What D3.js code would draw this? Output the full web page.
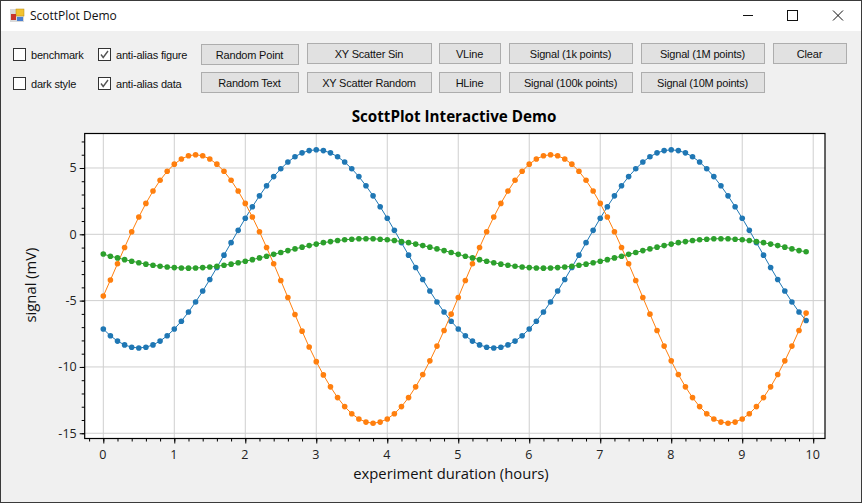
<!DOCTYPE html>
<html>
<head>
<meta charset="utf-8">
<title>ScottPlot Demo</title>
<script src="https://cdn.jsdelivr.net/npm/d3@7"></script>
<style>
  html, body { margin: 0; padding: 0; background: #f0f0f0; overflow: hidden; }
  svg { display: block; }
  .ui { font-family: "Liberation Sans", sans-serif; font-size: 11px; letter-spacing: -0.2px; fill: #111; }
  .seg { font-family: "Open Sans", "Noto Sans", sans-serif; fill: #111; }
</style>
</head>
<body>
<svg id="app" width="862" height="503"></svg>
<script>
// values, one point every 0.1 hours
var blueSeries = [
  -7.14, -7.65, -8.05, -8.34, -8.51, -8.57, -8.51, -8.34, -8.05, -7.65,
  -7.14, -6.55, -5.86, -5.10, -4.28, -3.41, -2.50, -1.57, -0.63, 0.30,
  1.21, 2.08, 2.90, 3.66, 4.35, 4.94, 5.45, 5.85, 6.14, 6.31,
  6.37, 6.31, 6.14, 5.85, 5.45, 4.94, 4.35, 3.66, 2.90, 2.08,
  1.21, 0.30, -0.63, -1.57, -2.50, -3.41, -4.28, -5.10, -5.86, -6.55,
  -7.14, -7.65, -8.05, -8.34, -8.51, -8.57, -8.51, -8.34, -8.05, -7.65,
  -7.14, -6.55, -5.86, -5.10, -4.28, -3.41, -2.50, -1.57, -0.63, 0.30,
  1.21, 2.08, 2.90, 3.66, 4.35, 4.94, 5.45, 5.85, 6.14, 6.31,
  6.37, 6.31, 6.14, 5.85, 5.45, 4.94, 4.35, 3.66, 2.90, 2.08,
  1.21, 0.30, -0.63, -1.57, -2.50, -3.41, -4.28, -5.10, -5.86, -6.50
]
var orangeSeries = [
  -4.66, -3.45, -2.22, -0.99, 0.19, 1.30, 2.33, 3.26, 4.07, 4.75,
  5.29, 5.68, 5.92, 6.00, 5.92, 5.68, 5.29, 4.75, 4.07, 3.26,
  2.33, 1.30, 0.19, -0.99, -2.22, -3.48, -4.76, -6.05, -7.30, -8.50,
  -9.60, -10.60, -11.50, -12.31, -12.99, -13.53, -13.92, -14.16, -14.24, -14.16,
  -13.92, -13.53, -12.99, -12.31, -11.50, -10.57, -9.54, -8.43, -7.25, -6.02,
  -4.76, -3.48, -2.22, -0.99, 0.19, 1.30, 2.33, 3.26, 4.07, 4.75,
  5.29, 5.68, 5.92, 6.00, 5.92, 5.68, 5.29, 4.75, 4.07, 3.26,
  2.33, 1.30, 0.19, -0.99, -2.22, -3.48, -4.76, -6.02, -7.25, -8.43,
  -9.54, -10.57, -11.50, -12.31, -12.99, -13.53, -13.92, -14.16, -14.24, -14.16,
  -13.92, -13.53, -12.99, -12.31, -11.50, -10.57, -9.54, -8.43, -7.25, -5.94
]
var greenSeries = [
  -1.49, -1.65, -1.78, -1.91, -2.03, -2.14, -2.25, -2.33, -2.41, -2.47,
  -2.51, -2.54, -2.55, -2.54, -2.51, -2.47, -2.41, -2.33, -2.25, -2.14,
  -2.03, -1.91, -1.78, -1.65, -1.51, -1.37, -1.23, -1.10, -0.97, -0.85,
  -0.74, -0.63, -0.55, -0.47, -0.41, -0.37, -0.34, -0.33, -0.34, -0.37,
  -0.41, -0.47, -0.55, -0.63, -0.74, -0.85, -0.97, -1.10, -1.23, -1.37,
  -1.51, -1.65, -1.78, -1.91, -2.03, -2.14, -2.25, -2.33, -2.41, -2.47,
  -2.51, -2.54, -2.55, -2.54, -2.51, -2.47, -2.41, -2.33, -2.25, -2.14,
  -2.03, -1.91, -1.78, -1.65, -1.51, -1.37, -1.23, -1.10, -0.97, -0.85,
  -0.74, -0.63, -0.55, -0.47, -0.41, -0.37, -0.34, -0.33, -0.34, -0.37,
  -0.41, -0.47, -0.55, -0.63, -0.74, -0.85, -0.97, -1.10, -1.23, -1.32
]
var seriesColors = ["#1f77b4", "#ff7f0e", "#2ca02c"]
var xMajor = [0, 1, 2, 3, 4, 5, 6, 7, 8, 9, 10]
var yMajor = [-15, -10, -5, 0, 5]
var xMinor = d3.range(-1, 51).map(d => d / 5)
var yMinor = d3.range(-15, 8)

var topButtons = ["Random Point", "XY Scatter Sin", "VLine", "Signal (1k points)", "Signal (1M points)", "Clear"]
var bottomButtons = ["Random Text", "XY Scatter Random", "HLine", "Signal (100k points)", "Signal (10M points)"]
var checkLabels = ["benchmark", "anti-alias figure", "dark style", "anti-alias data"]
var checkStates = [false, true, false, true]

var svg = d3.select("#app")

// ---------- window chrome ----------
svg.append("rect").attr("width", 862).attr("height", 503).attr("fill", "#f0f0f0")
svg.append("rect").attr("width", 862).attr("height", 31).attr("fill", "#ffffff")
svg.append("rect").attr("x", 0.5).attr("y", 0.5).attr("width", 861).attr("height", 502)
   .attr("fill", "none").attr("stroke", "#3a3a3a")

var icon = svg.append("g")
icon.append("rect").attr("x", 10).attr("y", 9).attr("width", 14).attr("height", 13).attr("fill", "#d9d9d9")
icon.append("rect").attr("x", 16).attr("y", 9).attr("width", 8).attr("height", 7).attr("fill", "#f2c230").attr("stroke", "#b98a10").attr("stroke-width", 0.5)
icon.append("rect").attr("x", 11).attr("y", 14).attr("width", 5).attr("height", 6).attr("fill", "#c8342c")
icon.append("rect").attr("x", 17).attr("y", 17).attr("width", 6).attr("height", 4).attr("fill", "#4a7fd0")

svg.append("text").attr("class", "seg").attr("x", 30).attr("y", 20)
   .style("font-size", "12px").text("ScottPlot Demo")

svg.append("line").attr("x1", 743).attr("x2", 753).attr("y1", 15.5).attr("y2", 15.5).attr("stroke", "#111")
svg.append("rect").attr("x", 787.5).attr("y", 10.5).attr("width", 10).attr("height", 10)
   .attr("fill", "none").attr("stroke", "#111")
svg.append("path").attr("d", "M833,10.5L843,20.5M843,10.5L833,20.5").attr("stroke", "#111").attr("fill", "none")

// ---------- checkboxes ----------
var checkX = [13, 98]
var checkY = [48, 77]
checkLabels.forEach((label, i) => {
    var cx = checkX[i % 2]
    var cy = checkY[Math.floor(i / 2)]
    svg.append("rect").attr("x", cx + 0.5).attr("y", cy + 0.5).attr("width", 12).attr("height", 12)
       .attr("fill", "#ffffff").attr("stroke", "#333333")
    if (checkStates[i]) {
        svg.append("path").attr("d", `M${cx + 3},${cy + 6.5}L${cx + 5.2},${cy + 9.5}L${cx + 10},${cy + 3}`)
           .attr("fill", "none").attr("stroke", "#555555").attr("stroke-width", 1.4)
    }
    svg.append("text").attr("class", "ui").attr("x", cx + 18).attr("y", cy + 10.5).text(label)
})

// ---------- buttons ----------
var buttonLeft = [201, 307, 439, 509, 641, 773]
var buttonRight = [298, 431, 500, 632, 764, 846]

function drawButton(label, i, top) {
    var b = svg.append("g")
    b.append("rect").attr("x", buttonLeft[i] + 0.5).attr("y", top + 0.5)
     .attr("width", buttonRight[i] - buttonLeft[i]).attr("height", 20)
     .attr("fill", "#e1e1e1").attr("stroke", "#adadad")
    b.append("text").attr("class", "ui").attr("text-anchor", "middle")
     .attr("x", (buttonLeft[i] + buttonRight[i]) / 2).attr("y", top + 15).text(label)
}
topButtons.forEach((label, i) => drawButton(label, i, i == 0 ? 44 : 43))
bottomButtons.forEach((label, i) => drawButton(label, i, 72))

// ---------- chart ----------
var dimensions = { left: 84.7, right: 825, top: 133.5, bottom: 438.5 }

var xScale = d3.scaleLinear().domain([-0.262, 10.166]).range([dimensions.left, dimensions.right])
var yScale = d3.scaleLinear().domain([-15.395, 7.6]).range([dimensions.bottom, dimensions.top])

svg.append("rect").attr("x", dimensions.left).attr("y", dimensions.top)
   .attr("width", dimensions.right - dimensions.left).attr("height", dimensions.bottom - dimensions.top)
   .attr("fill", "#ffffff")

svg.append("g").selectAll("line").data(xMajor).enter().append("line")
   .attr("x1", d => xScale(d)).attr("x2", d => xScale(d))
   .attr("y1", dimensions.top).attr("y2", dimensions.bottom)
   .attr("stroke", "#cfcfcf").attr("stroke-width", 1)
svg.append("g").selectAll("line").data(yMajor).enter().append("line")
   .attr("y1", d => yScale(d)).attr("y2", d => yScale(d))
   .attr("x1", dimensions.left).attr("x2", dimensions.right)
   .attr("stroke", "#cfcfcf").attr("stroke-width", 1)

var lineGen = d3.line().x((d, i) => xScale(i / 10)).y(d => yScale(d))

;[blueSeries, orangeSeries, greenSeries].forEach((series, s) => {
    var g = svg.append("g")
    g.append("path").attr("d", lineGen(series))
     .attr("fill", "none").attr("stroke", seriesColors[s]).attr("stroke-width", 1)
    g.selectAll("circle").data(series).enter().append("circle")
     .attr("cx", (d, i) => xScale(i / 10))
     .attr("cy", d => yScale(d))
     .attr("r", 2.8)
     .attr("fill", seriesColors[s])
})

// minor ticks first, labelled majors on top
var xAxisG = svg.append("g").attr("transform", `translate(0,${dimensions.bottom})`)
xAxisG.call(d3.axisBottom(xScale).tickValues(xMinor).tickSize(3).tickFormat(""))
xAxisG.select(".domain").remove()
var xAxisMajor = svg.append("g").attr("transform", `translate(0,${dimensions.bottom})`)
xAxisMajor.call(d3.axisBottom(xScale).tickValues(xMajor).tickSize(5).tickPadding(7).tickFormat(d3.format("d")))
xAxisMajor.select(".domain").remove()
xAxisMajor.selectAll(".tick text").attr("dx", -1)

var yAxisG = svg.append("g").attr("transform", `translate(${dimensions.left},0)`)
yAxisG.call(d3.axisLeft(yScale).tickValues(yMinor).tickSize(3).tickFormat(""))
yAxisG.select(".domain").remove()
var yAxisMajor = svg.append("g").attr("transform", `translate(${dimensions.left},0)`)
yAxisMajor.call(d3.axisLeft(yScale).tickValues(yMajor).tickSize(5).tickPadding(3).tickFormat(d => String(d)))
yAxisMajor.select(".domain").remove()

svg.selectAll(".tick text").attr("class", "seg").style("font-size", "12.5px").style("fill", "#222")

svg.append("rect").attr("x", dimensions.left).attr("y", dimensions.top)
   .attr("width", dimensions.right - dimensions.left).attr("height", dimensions.bottom - dimensions.top)
   .attr("fill", "none").attr("stroke", "#000").attr("stroke-width", 1.2)

svg.append("text").attr("class", "seg").attr("text-anchor", "middle")
   .attr("x", 454).attr("y", 122)
   .style("font-size", "15.2px").style("font-weight", "700").style("fill", "#000")
   .text("ScottPlot Interactive Demo")

svg.append("text").attr("class", "seg").attr("text-anchor", "middle")
   .attr("x", 451).attr("y", 479)
   .style("font-size", "14.8px")
   .text("experiment duration (hours)")

svg.append("text").attr("class", "seg").attr("text-anchor", "middle")
   .attr("transform", "translate(36,285) rotate(-90)")
   .style("font-size", "14.8px")
   .text("signal (mV)")
</script>
</body>
</html>
